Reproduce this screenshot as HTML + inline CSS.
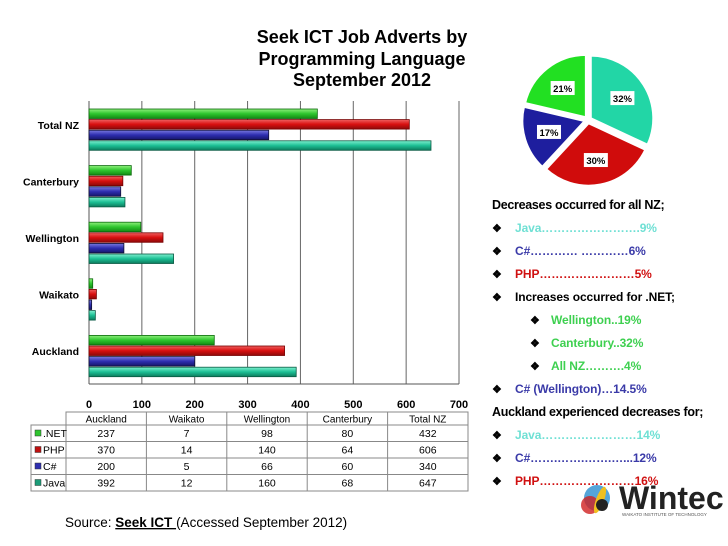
<!DOCTYPE html>
<html><head><meta charset="utf-8"><style>
body{margin:0;width:728px;height:546px;background:#fff;overflow:hidden;font-family:"Liberation Sans",sans-serif}
svg{position:absolute;left:0;top:0}
.t{font-family:"Liberation Sans",sans-serif}
</style></head><body>
<svg id="s" width="728" height="546">
<defs>
<linearGradient id="gg" x1="0" y1="0" x2="0" y2="1"><stop offset="0" stop-color="#8ef07c"/><stop offset=".5" stop-color="#2ec52e"/><stop offset="1" stop-color="#138a13"/></linearGradient>
<linearGradient id="gr" x1="0" y1="0" x2="0" y2="1"><stop offset="0" stop-color="#f06060"/><stop offset=".5" stop-color="#d80f0f"/><stop offset="1" stop-color="#8c0a0a"/></linearGradient>
<linearGradient id="gb" x1="0" y1="0" x2="0" y2="1"><stop offset="0" stop-color="#7a7ae0"/><stop offset=".5" stop-color="#2e2eb0"/><stop offset="1" stop-color="#16166a"/></linearGradient>
<linearGradient id="gt" x1="0" y1="0" x2="0" y2="1"><stop offset="0" stop-color="#7ff0cf"/><stop offset=".5" stop-color="#1cbf94"/><stop offset="1" stop-color="#0c7a5c"/></linearGradient>
</defs>
<g font-weight="bold" font-size="18" text-anchor="middle" fill="#000" class="t">
<text x="362" y="43">Seek ICT Job Adverts by</text>
<text x="362" y="65">Programming Language</text>
<text x="362" y="86">September 2012</text>
</g>
<g id="plot"></g>
<g id="table"></g>
<g id="pie"></g>
<text x="65" y="527" font-size="13.5" class="t">Source: <tspan font-weight="bold" text-decoration="underline">Seek ICT </tspan>(Accessed September 2012)</text>
<g id="notes" class="t" font-size="12" font-weight="bold"></g>
<g>
<circle cx="597" cy="498" r="13" fill="#2a8fd0" opacity=".8"/><circle cx="590" cy="505" r="9" fill="#d02020" opacity=".8"/><ellipse cx="600" cy="500" rx="4" ry="14" fill="#f0c020" transform="rotate(20 600 500)"/><circle cx="602" cy="505" r="6" fill="#222"/>
<text x="619" y="509" font-size="32" font-weight="bold" fill="#222" class="t">Wintec</text>
<text x="622" y="516" font-size="4.5" fill="#555" class="t">WAIKATO INSTITUTE OF TECHNOLOGY</text>
</g>
</svg>
<script>
const categories=["Total NZ","Canterbury","Wellington","Waikato","Auckland"];
const seriesNames=[".NET","PHP","C#","Java"];
const dotnet=[432,80,98,7,237];
const php=[606,64,140,14,370];
const csharp=[340,60,66,5,200];
const java=[647,68,160,12,392];
const xTicks=[0,100,200,300,400,500,600,700];
const tableCols=["Auckland","Waikato","Wellington","Canterbury","Total NZ"];
const pieValues=[647,606,340,432];
const pieLabels=["32%","30%","17%","21%"];
const NS="http://www.w3.org/2000/svg";
function mk(tag,at,parent,txt){const e=document.createElementNS(NS,tag);for(const k in at)e.setAttribute(k,at[k]);if(txt!==undefined)e.textContent=txt;parent.appendChild(e);return e;}
const X0=89,X1=459,Y0=101,Y1=384;
const xs=v=>X0+(v/700)*(X1-X0);
const band=(Y1-Y0)/categories.length;
const plot=document.getElementById('plot');
xTicks.forEach(t=>{
 const l=mk('line',{x1:xs(t),x2:xs(t),y1:Y0,y2:Y1,stroke:t?'#666':'#555','stroke-width':1},plot);
 
 
 const tx=mk('text',{x:xs(t),y:Y1+24,'text-anchor':'middle','font-size':11,'font-weight':'bold',class:'t'},plot,t);
 
 
});
const ax=mk('line',{x1:X0,x2:X1,y1:Y1,y2:Y1,stroke:'#555'},plot);


const series=[dotnet,php,csharp,java];const fills=['url(#gg)','url(#gr)','url(#gb)','url(#gt)'];const strokes=['#0d6a0d','#700','#113','#0a5a44'];
categories.forEach((c,i)=>{
 const top=Y0+i*band+8;
 const lb=mk('text',{x:79,y:Y0+i*band+band/2-0.5,'text-anchor':'end','font-size':10.5,'font-weight':'bold',class:'t'},plot,c);
 
 
 series.forEach((s,j)=>{
  const r=mk('rect',{x:X0,y:top+j*10.6,width:Math.max(1,xs(s[i])-X0),height:9.5,fill:fills[j],stroke:strokes[j],'stroke-width':.8},plot);
  
  
 });
});
const tb=document.getElementById('table');
const TX=66,CW=80.4,TY=412,HH=13,RH=16.5;
const sw=['#2ec52e','#c01010','#2e2eb0','#1a9c78'];
mk('rect',{x:TX,y:TY,width:CW*5,height:HH+RH*4,fill:'none',stroke:'#888'},tb);
mk('rect',{x:31,y:TY+HH,width:35,height:RH*4,fill:'none',stroke:'#888'},tb);
tableCols.forEach((c,k)=>{
 if(k)mk('line',{x1:TX+k*CW,x2:TX+k*CW,y1:TY,y2:TY+HH+RH*4,stroke:'#888'},tb);
 const h=mk('text',{x:TX+k*CW+CW/2,y:TY+10.5,'text-anchor':'middle','font-size':10,class:'t'},tb,c);
 
 
});
const colIdx=[4,3,2,1,0];
series.forEach((s,j)=>{
 const y=TY+HH+j*RH;
 mk('line',{x1:31,x2:TX+5*CW,y1:y,y2:y,stroke:'#888'},tb);
 mk('rect',{x:35,y:y+5,width:6,height:6,fill:sw[j],stroke:'#333','stroke-width':.5},tb);
 const n=mk('text',{x:43,y:y+12,'font-size':10.5,class:'t'},tb,seriesNames[j]);
 
 
 colIdx.forEach((ci,k)=>{
  const v=mk('text',{x:TX+k*CW+CW/2,y:y+12,'text-anchor':'middle','font-size':10.5,class:'t'},tb,s[ci]);
  
  
 });
});
const pie=document.getElementById('pie');
const pf=['#22d6a6','#d00c0c','#1e1e9e','#22e022'];
const tot=pieValues.reduce((a,b)=>a+b,0);
let a0=0;const cx=588,cy=120,R=63;
pieValues.forEach((v,i)=>{
 const a1=a0+v/tot*2*Math.PI,m=(a0+a1)/2;
 const ox=Math.sin(m)*3,oy=-Math.cos(m)*3;
 const p=(a,r)=>[cx+ox+Math.sin(a)*r,cy+oy-Math.cos(a)*r];
 const [x1,y1]=p(a0,R),[x2,y2]=p(a1,R);
 const sl=mk('path',{d:`M${cx+ox},${cy+oy}L${x1},${y1}A${R},${R} 0 ${a1-a0>Math.PI?1:0} 1 ${x2},${y2}Z`,fill:pf[i],stroke:'#fff','stroke-width':2.5},pie);
 
 
 const [lx,ly]=p(m,R*0.6);
 mk('rect',{x:lx-12,y:ly-7,width:24,height:14,fill:'#fff'},pie);
 const t=mk('text',{x:lx,y:ly+4,'text-anchor':'middle','font-size':9.5,'font-weight':'bold',class:'t'},pie,pieLabels[i]);
 
 
 a0=a1;
});
const notes=document.getElementById('notes');
const lines=[
[209,492,null,'#000','Decreases occurred for all NZ;'],
[232,515,492,'#6fe0d4','Java…………………….9%'],
[255,515,492,'#3a3aa8','C#………… …………6%'],
[278,515,492,'#d01010','PHP……………………5%'],
[301,515,492,'#000','Increases occurred for .NET;'],
[324,551,530,'#3ed050','Wellington..19%'],
[347,551,530,'#3ed050','Canterbury..32%'],
[370,551,530,'#3ed050','All NZ……….4%'],
[393,515,492,'#3a3aa8','C# (Wellington)…14.5%'],
[416,492,null,'#000','Auckland experienced decreases for;'],
[439,515,492,'#6fe0d4','Java……………………14%'],
[462,515,492,'#3a3aa8','C#…….…….…….…...12%'],
[485,515,492,'#d01010','PHP……………………16%']];
lines.forEach(l=>{
 if(l[2]!==null){const b=mk('text',{x:l[2],y:l[0],'font-size':11,fill:'#000'},notes,'❖');}
 const t=mk('text',{x:l[1],y:l[0],fill:l[3],'font-size':l[2]===null?12.5:12,'letter-spacing':l[2]===null?-0.3:-0.1},notes,l[4]);
 
 
});
</script>
</body></html>
